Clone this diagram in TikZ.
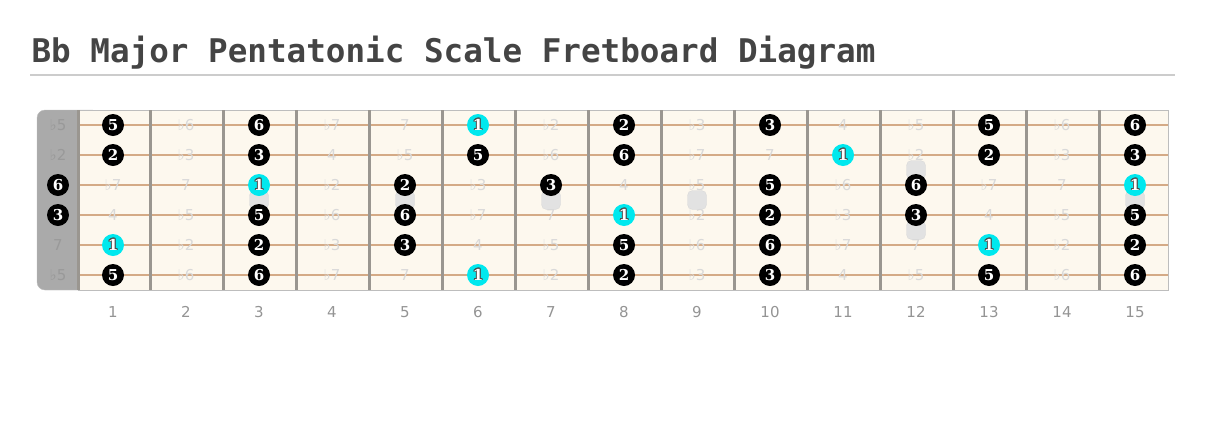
\documentclass[tikz,border=0pt]{standalone}
\usepackage{fontspec}
\setmainfont{DejaVu Serif}
\newfontfamily\titlefont{DejaVu Sans Mono}
\newfontfamily\markfont{DejaVu Sans}
\usepackage{contour}
\contourlength{0.8pt}

\definecolor{board}{HTML}{FDF8EE}
\definecolor{edge}{HTML}{BDBDBD}
\definecolor{nutgray}{HTML}{AAAAAA}
\definecolor{fretgray}{HTML}{9A9690}
\definecolor{stringtan}{HTML}{D4AA86}
\definecolor{inlay}{HTML}{E2E2E2}
\definecolor{rootcyan}{HTML}{00E8EE}
\definecolor{titlegray}{HTML}{444444}

% interval names counted from Bb
\newcommand\degname[1]{\ifcase#1 1\or ♭2\or 2\or ♭3\or 3\or 4\or ♭5\or 5\or ♭6\or 6\or ♭7\or 7\fi}

\begin{document}
\begin{tikzpicture}[x=1pt, y=-1pt,
    on/.style={circle, fill=black, text=white, minimum size=22pt, inner sep=0pt,
      font=\fontsize{15}{15}\selectfont\bfseries},
    onnut/.style={on},
    root/.style={on, fill=rootcyan},
    rootnut/.style={root},
    off/.style={text=black!15, inner sep=0pt, font=\markfont\fontsize{15}{15}\selectfont},
    offnut/.style={off, text=black!40},
    fretno/.style={text=black!42, font=\markfont\fontsize{15}{15}\selectfont},
    inlaybox/.style={fill=inlay, draw=black!15, rounded corners=5pt, minimum size=19pt, inner sep=0pt}]
  \useasboundingbox (0,0) rectangle (1206,437);

  \node[anchor=base west, text=titlegray, font=\titlefont\bfseries\fontsize{32.6}{33}\selectfont]
    (title) at (28,62) {Bb Major Pentatonic Scale Fretboard Diagram};
  \draw[black!20, line width=2pt] (30,75) -- (1175,75);

  % board
  \filldraw[fill=nutgray, draw=edge, rounded corners=8pt] (37,110) rectangle (100,290);
  \filldraw[fill=board, draw=edge] (78,110) rectangle (1168,290);
  \foreach \f in {3,5,7,9,15}
    \node[inlaybox] (dot\f) at (40+73*\f,200) {};
  \node[inlaybox] (dot12a) at (916,170) {};
  \node[inlaybox] (dot12b) at (916,230) {};
  \foreach \s in {1,...,6}
    \draw[stringtan, line width=2pt] (78,95+30*\s) -- (1168,95+30*\s);
  \draw[fretgray, line width=3pt] (78,110) -- (78,290);
  \foreach \f in {1,...,14}
    \draw[fretgray, line width=3pt] (77+73*\f,110) -- (77+73*\f,290);

  % notes
  \foreach \s/\o in {1/6,2/1,3/9,4/4,5/11,6/6}
    \foreach \f in {0,...,15} {
      \pgfmathtruncatemacro\i{mod(\o+\f,12)}
      \pgfmathsetmacro\x{ifthenelse(\f==0,58,40+73*\f)}
      \edef\kind{\ifcase\i root\or off\or on\or off\or on\or off\or off\or on\or off\or on\or off\or off\fi}
      \ifnum\f=0 \edef\kind{\kind nut}\fi
      \node[\kind] (n-\s-\f) at (\x,95+30*\s)
        {\ifnum\i=0 \contour{black!70}{1}\else\degname\i\fi};
    }

  \foreach \f in {1,...,15}
    \node[fretno] (fn\f) at (40+73*\f,312) {\f};
\end{tikzpicture}
\end{document}
